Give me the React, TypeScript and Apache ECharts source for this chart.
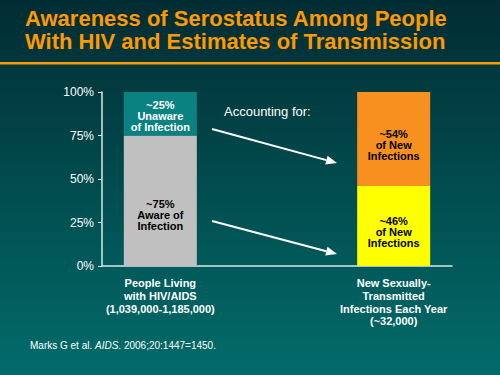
import React, { useEffect, useRef } from "react";
import * as echarts from "echarts";

const categories = [
  "People Living\nwith HIV/AIDS\n(1,039,000-1,185,000)",
  "",
  "New Sexually-\nTransmitted\nInfections Each Year\n(~32,000)",
];
const lowerValues = [75, null, 46];
const upperValues = [25, null, 54];
const lowerLabels = ["~75%\nAware of\nInfection", "", "~46%\nof New\nInfections"];
const upperLabels = ["~25%\nUnaware\nof Infection", "", "~54%\nof New\nInfections"];
const lowerColors = ["#c0c0c0", "#c0c0c0", "#ffff00"];
const upperColors = ["#0a8282", "#0a8282", "#f7901e"];
const lowerLabelColors = ["#000000", "#000000", "#000000"];
const upperLabelColors = ["#ffffff", "#ffffff", "#000000"];
const yTicks = [0, 25, 50, 75, 100];
const titleLines = [
  "Awareness of Serostatus Among People",
  "With HIV and Estimates of Transmission",
];

const FONT = "'Liberation Sans', Arial, sans-serif";

function arrow(x1: number, y1: number, x2: number, y2: number) {
  const ang = Math.atan2(y2 - y1, x2 - x1);
  const len = 11;
  const half = 4.5;
  const bx = x2 - len * Math.cos(ang);
  const by = y2 - len * Math.sin(ang);
  const px = -Math.sin(ang);
  const py = Math.cos(ang);
  return [
    {
      type: "line",
      shape: { x1, y1, x2: bx, y2: by },
      style: { stroke: "#ffffff", lineWidth: 2 },
    },
    {
      type: "polygon",
      shape: {
        points: [
          [x2, y2],
          [bx + px * half, by + py * half],
          [bx - px * half, by - py * half],
        ],
      },
      style: { fill: "#ffffff" },
    },
  ];
}

export default function App() {
  const ref = useRef<HTMLDivElement>(null);
  useEffect(() => {
    if (!ref.current) return;
    const chart = echarts.init(ref.current, undefined, { renderer: "svg" });
    chart.setOption({
      animation: false,
      backgroundColor: new echarts.graphic.LinearGradient(0, 0, 0, 1, [
        { offset: 0, color: "#012c33" },
        { offset: 1, color: "#026c6a" },
      ]),
      textStyle: { fontFamily: FONT },
      grid: { left: 102, right: 48, top: 92, bottom: 109, containLabel: false },
      xAxis: {
        type: "category",
        data: categories,
        axisLine: { lineStyle: { color: "#d8e8e8", width: 1.5 } },
        axisTick: { show: false },
        axisLabel: {
          color: "#ffffff",
          fontWeight: "bold",
          fontSize: 11,
          lineHeight: 12.7,
          margin: 11,
          interval: 0,
          fontFamily: FONT,
        },
      },
      yAxis: {
        type: "value",
        min: 0,
        max: 100,
        interval: 25,
        splitLine: { show: false },
        axisLine: { show: true, lineStyle: { color: "#d8e8e8", width: 1.5 } },
        axisTick: { show: true, inside: false, length: 4, lineStyle: { color: "#d8e8e8" } },
        axisLabel: {
          color: "#ffffff",
          fontSize: 12,
          margin: 8,
          fontFamily: FONT,
          formatter: (v: number) => (yTicks.includes(v) ? v + "%" : ""),
        },
      },
      series: [
        {
          type: "bar",
          stack: "s",
          barWidth: 73,
          data: lowerValues.map((v, i) => ({
            value: v,
            itemStyle: { color: lowerColors[i] },
            label: {
              show: v != null,
              position: "inside",
              offset: i === 0 ? [0, 14] : [0, 6],
              formatter: lowerLabels[i],
              color: lowerLabelColors[i],
              fontWeight: "bold",
              fontSize: 11,
              lineHeight: 11,
              fontFamily: FONT,
            },
          })),
        },
        {
          type: "bar",
          stack: "s",
          barWidth: 73,
          data: upperValues.map((v, i) => ({
            value: v,
            itemStyle: { color: upperColors[i] },
            label: {
              show: v != null,
              position: "inside",
              offset: i === 0 ? [0, 2] : [0, 6],
              formatter: upperLabels[i],
              color: upperLabelColors[i],
              fontWeight: "bold",
              fontSize: 11,
              lineHeight: 11,
              fontFamily: FONT,
            },
          })),
        },
      ],
      graphic: [
        {
          type: "text",
          left: 25,
          top: 7.5,
          style: {
            text: titleLines[0],
            fill: "#ff9900",
            font: `bold 22px ${FONT}`,
            lineHeight: 22,
          },
        },
        {
          type: "text",
          left: 25,
          top: 30,
          style: {
            text: titleLines[1],
            fill: "#ff9900",
            font: `bold 22px ${FONT}`,
            lineHeight: 22,
          },
        },
        {
          type: "rect",
          shape: { x: 0, y: 62, width: 500, height: 2.5 },
          style: { fill: "#ff9900" },
        },
        {
          type: "text",
          left: 224,
          top: 105,
          style: {
            text: "Accounting for:",
            fill: "#ffffff",
            font: `13px ${FONT}`,
          },
        },
        ...arrow(212, 129, 337, 163),
        ...arrow(212, 221, 337, 254),
        {
          type: "text",
          left: 30,
          top: 340,
          style: {
            text: "{n|Marks G et al. }{i|AIDS}{n|. 2006;20:1447=1450.}",
            rich: {
              n: { fill: "#ffffff", font: `10px ${FONT}` },
              i: { fill: "#ffffff", font: `italic 10px ${FONT}` },
            },
          },
        },
      ],
    });
    return () => chart.dispose();
  }, []);
  return (
    <div
      ref={ref}
      style={{ position: "fixed", left: 0, top: 0, width: 500, height: 375 }}
    />
  );
}
